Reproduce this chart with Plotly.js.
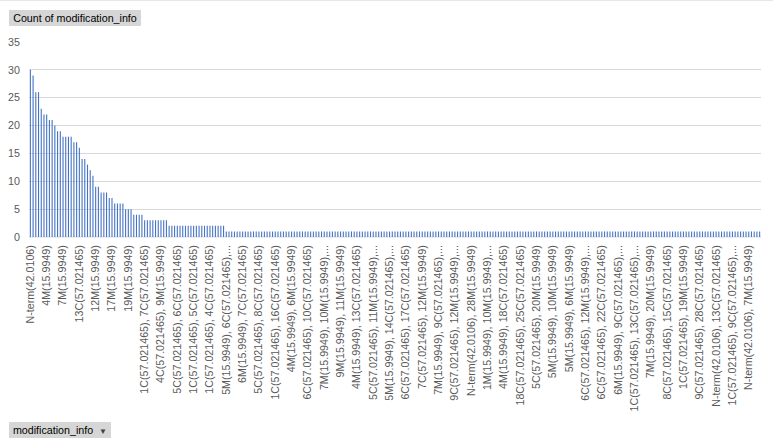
<!DOCTYPE html>
<html>
<head>
<meta charset="utf-8">
<script src="https://cdn.plot.ly/plotly-3.0.1.min.js"></script>
<style>
  html, body { margin: 0; padding: 0; background: #ffffff; }
  #chart { width: 773px; height: 441px; }
</style>
</head>
<body>
<div id="chart"></div>
<script>
// Count of each modification_info category, in pivot (descending) order
const counts = [
  30,29,26,26,23,22,22,21,21,20,19,19,18,18,18,18,17,17,16,14,
  14,13,12,11,9,9,8,8,8,7,7,6,6,6,6,5,5,5,4,4,
  4,4,3,3,3,3,3,3,3,3,3,2,2,2,2,2,2,2,2,2,
  2,2,2,2,2,2,2,2,2,2,2,2,1,1,1,1,1,1,1,1,
  1,1,1,1,1,1,1,1,1,1,1,1,1,1,1,1,1,1,1,1,
  1,1,1,1,1,1,1,1,1,1,1,1,1,1,1,1,1,1,1,1,
  1,1,1,1,1,1,1,1,1,1,1,1,1,1,1,1,1,1,1,1,
  1,1,1,1,1,1,1,1,1,1,1,1,1,1,1,1,1,1,1,1,
  1,1,1,1,1,1,1,1,1,1,1,1,1,1,1,1,1,1,1,1,
  1,1,1,1,1,1,1,1,1,1,1,1,1,1,1,1,1,1,1,1,
  1,1,1,1,1,1,1,1,1,1,1,1,1,1,1,1,1,1,1,1,
  1,1,1,1,1,1,1,1,1,1,1,1,1,1,1,1,1,1,1,1,
  1,1,1,1,1,1,1,1,1,1,1,1,1,1,1,1,1,1,1,1,
  1,1,1,1,1,1,1,1,1
];

// Category labels shown on the axis (every 6th category)
const tickLabels = [
  "N-term(42.0106)",
  "4M(15.9949)",
  "7M(15.9949)",
  "13C(57.021465)",
  "12M(15.9949)",
  "17M(15.9949)",
  "19M(15.9949)",
  "1C(57.021465), 7C(57.021465)",
  "4C(57.021465), 9M(15.9949)",
  "5C(57.021465), 6C(57.021465)",
  "1C(57.021465), 5C(57.021465)",
  "1C(57.021465), 4C(57.021465)",
  "5M(15.9949), 6C(57.021465),...",
  "6M(15.9949), 7C(57.021465)",
  "5C(57.021465), 8C(57.021465)",
  "1C(57.021465), 16C(57.021465)",
  "4M(15.9949), 6M(15.9949)",
  "6C(57.021465), 10C(57.021465)",
  "7M(15.9949), 10M(15.9949),...",
  "9M(15.9949), 11M(15.9949)",
  "4M(15.9949), 13C(57.021465)",
  "5C(57.021465), 11M(15.9949),...",
  "5M(15.9949), 14C(57.021465),...",
  "6C(57.021465), 17C(57.021465)",
  "7C(57.021465), 12M(15.9949)",
  "7M(15.9949), 9C(57.021465),...",
  "9C(57.021465), 12M(15.9949),...",
  "N-term(42.0106), 28M(15.9949)",
  "1M(15.9949), 10M(15.9949),...",
  "4M(15.9949), 18C(57.021465)",
  "18C(57.021465), 25C(57.021465)",
  "5C(57.021465), 20M(15.9949)",
  "5M(15.9949), 10M(15.9949)",
  "5M(15.9949), 6M(15.9949)",
  "6C(57.021465), 12M(15.9949),...",
  "6C(57.021465), 22C(57.021465)",
  "6M(15.9949), 9C(57.021465),...",
  "1C(57.021465), 13C(57.021465),...",
  "7M(15.9949), 20M(15.9949)",
  "8C(57.021465), 15C(57.021465)",
  "1C(57.021465), 19M(15.9949)",
  "9C(57.021465), 28C(57.021465)",
  "N-term(42.0106), 13C(57.021465)",
  "1C(57.021465), 9C(57.021465),...",
  "N-term(42.0106), 7M(15.9949)"
];
const labelStep = 6;

const yTitle = "Count of modification_info";
const xField = "modification_info";

// plot-area geometry in pixels
const W = 773, H = 441;
const L = 29.3, R = 760.7, T = 42.3, B = 237;
const px = x => (x - L) / (R - L);
const py = y => (B - y) / (B - T);

const FONT = "Liberation Sans, Arial, sans-serif";
const FS = 10.7;

const trace = {
  type: "bar",
  y: counts,
  marker: { color: "#4472C4", line: { width: 0 } },
  hoverinfo: "y"
};

const layout = {
  width: W, height: H,
  margin: { l: L, r: W - R, t: T, b: H - B, pad: 0 },
  paper_bgcolor: "#ffffff",
  plot_bgcolor: "#ffffff",
  showlegend: false,
  bargap: 0.6,
  font: { family: FONT, size: FS, color: "#595959" },
  xaxis: {
    range: [-0.5, counts.length - 0.5],
    tickmode: "array",
    tickvals: tickLabels.map((_, k) => k * labelStep),
    ticktext: tickLabels,
    tickangle: -90,
    ticks: "",
    showgrid: false,
    zeroline: false,
    showline: false,
    automargin: false,
    ticklabelstandoff: 5,
    tickfont: { family: FONT, size: FS, color: "#595959" },
    fixedrange: true
  },
  yaxis: {
    range: [0, 35],
    dtick: 5,
    tick0: 0,
    ticks: "",
    showgrid: true,
    gridcolor: "#d9d9d9",
    gridwidth: 1,
    zeroline: false,
    showline: false,
    automargin: false,
    ticklabelstandoff: 8,
    tickfont: { family: FONT, size: FS, color: "#595959" },
    fixedrange: true
  },
  shapes: [
    { type: "line", xref: "paper", yref: "paper",
      x0: px(0), x1: px(W), y0: py(0.5), y1: py(0.5),
      line: { color: "#d9d9d9", width: 1 } },
    { type: "line", xref: "paper", yref: "paper",
      x0: 0, x1: 1, y0: 0, y1: 0,
      line: { color: "#d9d9d9", width: 1 }, layer: "below" }
  ],
  annotations: [
    { text: yTitle, xref: "paper", yref: "paper",
      x: px(9), y: py(10), xanchor: "left", yanchor: "top",
      width: 132, height: 16, align: "center", valign: "middle",
      showarrow: false, bgcolor: "#d6d6d6", borderpad: 0, borderwidth: 0,
      font: { family: FONT, size: FS, color: "#000000" } },
    { text: xField + "&nbsp;&nbsp;<span style='font-size:8px;color:#404040'>▼</span>",
      xref: "paper", yref: "paper",
      x: px(9), y: py(422), xanchor: "left", yanchor: "top",
      width: 102, height: 16, align: "center", valign: "middle",
      showarrow: false, bgcolor: "#d6d6d6", borderpad: 0, borderwidth: 0,
      font: { family: FONT, size: FS, color: "#000000" } }
  ]
};

Plotly.newPlot("chart", [trace], layout, { displayModeBar: false, staticPlot: true });
</script>
</body>
</html>
